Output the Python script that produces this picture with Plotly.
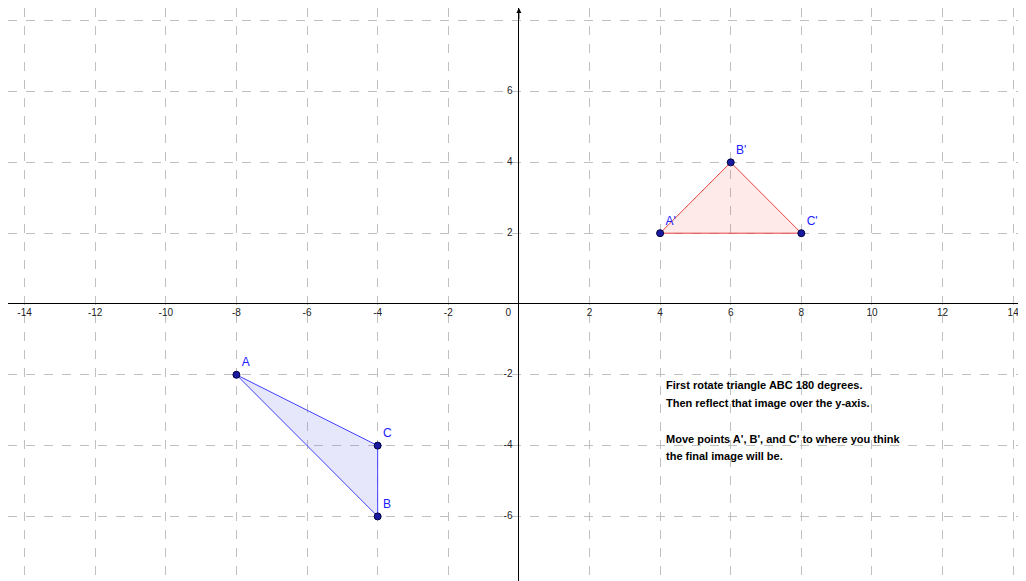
import plotly.graph_objects as go

x_ticks = [-14, -12, -10, -8, -6, -4, -2, 2, 4, 6, 8, 10, 12, 14]
y_ticks = [-6, -4, -2, 2, 4, 6]
tri1_labels = ["A", "B", "C"]
tri1_x = [-8, -4, -4]
tri1_y = [-2, -6, -4]
tri2_labels = ["A'", "B'", "C'"]
tri2_x = [4, 6, 8]
tri2_y = [2, 4, 2]
note_lines = ["First rotate triangle ABC 180 degrees.",
              "Then reflect that image over the y-axis.",
              "",
              "Move points A', B', and C' to where you think",
              "the final image will be."]
note_y = [-2.3, -2.8, -3.3, -3.8, -4.3]

fig = go.Figure()
fig.add_trace(go.Scatter(x=tri1_x + [tri1_x[0]], y=tri1_y + [tri1_y[0]], fill="toself",
                         fillcolor="rgba(120,120,240,0.18)", line=dict(color="#4040ff", width=1),
                         mode="lines", hoverinfo="skip"))
fig.add_trace(go.Scatter(x=tri2_x + [tri2_x[0]], y=tri2_y + [tri2_y[0]], fill="toself",
                         fillcolor="rgba(255,80,80,0.12)", line=dict(color="#e84040", width=1),
                         mode="lines", hoverinfo="skip"))
for xs, ys, labs in [(tri1_x, tri1_y, tri1_labels), (tri2_x, tri2_y, tri2_labels)]:
    fig.add_trace(go.Scatter(x=xs, y=ys, mode="markers+text", text=labs,
                             textposition="top right", textfont=dict(color="#2020ff", size=12, family="Liberation Sans"),
                             marker=dict(size=7, color="#1a1aa0", line=dict(color="#000040", width=1))))
fig.add_trace(go.Scatter(x=x_ticks, y=[-0.27] * len(x_ticks), mode="text", text=[str(v) for v in x_ticks],
                         textfont=dict(size=10, color="#222", family="Liberation Sans"), hoverinfo="skip"))
fig.add_trace(go.Scatter(x=[-0.18] * len(y_ticks), y=y_ticks, mode="text", text=[str(v) for v in y_ticks],
                         textposition="middle left", textfont=dict(size=10, color="#222", family="Liberation Sans"),
                         hoverinfo="skip"))
fig.add_trace(go.Scatter(x=[-0.3], y=[-0.27], mode="text", text=["0"],
                         textfont=dict(size=10, color="#222", family="Liberation Sans"), hoverinfo="skip"))

for line, yv in zip(note_lines, note_y):
    if line:
        fig.add_annotation(x=4.1, y=yv, xanchor="left", yanchor="middle", showarrow=False,
                           text="<b>%s</b>" % line,
                           font=dict(size=11, color="black", family="Liberation Sans"))
fig.add_annotation(x=14.59, y=0, ax=14.2, ay=0, xref="x", yref="y", axref="x", ayref="y",
                   showarrow=True, arrowhead=2, arrowsize=1, arrowwidth=1, arrowcolor="black", text="")
fig.add_annotation(x=0, y=8.36, ax=0, ay=8.0, xref="x", yref="y", axref="x", ayref="y",
                   showarrow=True, arrowhead=2, arrowsize=1, arrowwidth=1, arrowcolor="black", text="")

grid = dict(showgrid=True, gridcolor="#c0c0c0", griddash="dash", gridwidth=1, dtick=2,
            zeroline=True, zerolinecolor="black", zerolinewidth=1, showticklabels=False, ticks="")
fig.update_xaxes(range=[-14.47, 14.59], tick0=0, **grid)
fig.update_yaxes(range=[-8.05, 8.36], tick0=0, **grid)
fig.update_layout(width=1026, height=581, margin=dict(l=0, r=0, t=0, b=0),
                  plot_bgcolor="white", paper_bgcolor="white", showlegend=False)
fig.write_html("out.html")
